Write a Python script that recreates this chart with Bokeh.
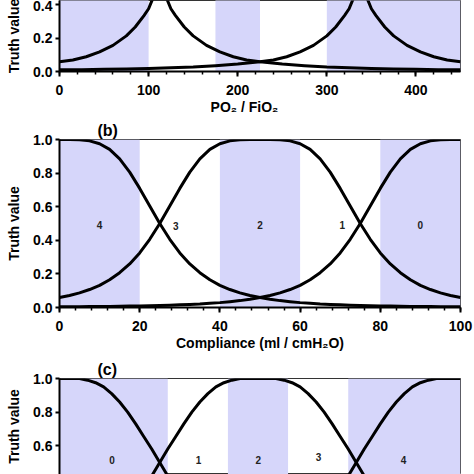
from bokeh.plotting import figure
from bokeh.layouts import column
from bokeh.models import FixedTicker, PrintfTickFormatter, Range1d, ColumnDataSource
from bokeh.core.properties import value
from bokeh.embed import file_html
from bokeh.resources import INLINE

# ---------------- data ----------------
# (a) PO2 / FiO2 membership curves
a_x_left = [0, 15, 30, 45, 60, 75, 85, 95, 100, 105, 112.5, 120, 125, 130, 140, 150,
            165, 180, 195, 210, 225, 250, 275, 300, 325, 350, 375, 400, 425, 450]
a_y_left = [0.058, 0.069, 0.088, 0.117, 0.156, 0.213, 0.266, 0.336, 0.375, 0.44, 1.0,
            0.44, 0.375, 0.336, 0.266, 0.213, 0.156, 0.117, 0.088, 0.069, 0.058,
            0.045, 0.035, 0.027, 0.022, 0.018, 0.015, 0.013, 0.011, 0.010]
a_x_right = [0, 25, 50, 75, 100, 125, 150, 175, 200, 225, 240, 255, 270, 285, 300,
             310, 320, 325, 330, 337.5, 345, 350, 355, 365, 375, 390, 405, 420, 435, 450]
a_y_right = [0.010, 0.011, 0.013, 0.015, 0.018, 0.022, 0.027, 0.035, 0.045, 0.058,
             0.069, 0.088, 0.117, 0.156, 0.213, 0.266, 0.336, 0.375, 0.44, 1.0,
             0.44, 0.375, 0.336, 0.266, 0.213, 0.156, 0.117, 0.088, 0.069, 0.058]
a_band_left = [0, 175, 300]
a_band_right = [100, 225, 450]
a_xticks = [0, 100, 200, 300, 400]

# (b) Compliance membership curves
b_x = [0, 2.5, 5, 7.5, 10, 12.5, 15, 17.5, 20, 22.5, 25, 27.5, 30, 32.5, 35, 37.5, 40,
       42.5, 45, 47.5, 50, 52.5, 55, 57.5, 60, 62.5, 65, 67.5, 70, 72.5, 75, 77.5, 80,
       82.5, 85, 87.5, 90, 92.5, 95, 97.5, 100]
b_y_low = [1.0, 1.0, 0.998, 0.992, 0.975, 0.941, 0.885, 0.806, 0.709, 0.604, 0.5,
           0.406, 0.325, 0.259, 0.207, 0.165, 0.132, 0.107, 0.087, 0.071, 0.059,
           0.049, 0.041, 0.0345, 0.029, 0.025, 0.021, 0.0185, 0.016, 0.014, 0.012,
           0.0107, 0.0094, 0.0084, 0.0074, 0.0066, 0.0059, 0.0053, 0.0048, 0.0043, 0.0039]
b_y_mid = [0.059, 0.071, 0.087, 0.107, 0.132, 0.165, 0.207, 0.259, 0.325, 0.406, 0.5,
           0.604, 0.709, 0.806, 0.885, 0.941, 0.975, 0.992, 0.998, 1.0, 1.0,
           1.0, 0.998, 0.992, 0.975, 0.941, 0.885, 0.806, 0.709, 0.604, 0.5,
           0.406, 0.325, 0.259, 0.207, 0.165, 0.132, 0.107, 0.087, 0.071, 0.059]
b_y_high = [0.0039, 0.0043, 0.0048, 0.0053, 0.0059, 0.0066, 0.0074, 0.0084, 0.0094,
            0.0107, 0.012, 0.014, 0.016, 0.0185, 0.021, 0.025, 0.029, 0.0345, 0.041,
            0.049, 0.059, 0.071, 0.087, 0.107, 0.132, 0.165, 0.207, 0.259, 0.325,
            0.406, 0.5, 0.604, 0.709, 0.806, 0.885, 0.941, 0.975, 0.992, 0.998, 1.0, 1.0]
b_band_left = [0, 40, 80]
b_band_right = [20, 60, 100]
b_xticks = [0, 20, 40, 60, 80, 100]
b_labels = ["4", "3", "2", "1", "0"]
b_label_x = [10, 29, 50, 70.5, 90]
b_label_y = [0.49, 0.485, 0.494, 0.494, 0.494]

# (c) membership curves
c_x_a = [0, 5, 7, 9, 11, 13, 15, 17, 19, 21, 23, 25, 27, 29, 31, 33, 35, 37, 39, 41,
         43, 45, 100]
c_y_a = [1.0, 1.0, 0.99, 0.975, 0.95, 0.91, 0.86, 0.80, 0.73, 0.655, 0.58, 0.5, 0.42,
         0.345, 0.27, 0.20, 0.14, 0.09, 0.05, 0.025, 0.01, 0.0, 0.0]
c_x_b = [0, 5, 7, 9, 11, 13, 15, 17, 19, 21, 23, 25, 27, 29, 31, 33, 35, 37, 39, 41,
         43, 45, 54, 56, 58, 60, 62, 64, 66, 68, 70, 72, 74, 76, 78, 80, 82, 84, 86,
         88, 90, 92, 94, 100]
c_y_b = [0.0, 0.0, 0.01, 0.025, 0.05, 0.09, 0.14, 0.20, 0.27, 0.345, 0.42, 0.5, 0.58,
         0.655, 0.73, 0.80, 0.86, 0.91, 0.95, 0.975, 0.99, 1.0,
         1.0, 0.99, 0.975, 0.95, 0.91, 0.86, 0.80, 0.73, 0.655, 0.58, 0.5, 0.42,
         0.345, 0.27, 0.20, 0.14, 0.09, 0.05, 0.025, 0.01, 0.0, 0.0]
c_x_c = [0, 54, 56, 58, 60, 62, 64, 66, 68, 70, 72, 74, 76, 78, 80, 82, 84, 86, 88,
         90, 92, 94, 100]
c_y_c = [0.0, 0.0, 0.01, 0.025, 0.05, 0.09, 0.14, 0.20, 0.27, 0.345, 0.42, 0.5, 0.58,
         0.655, 0.73, 0.80, 0.86, 0.91, 0.95, 0.975, 0.99, 1.0, 1.0]
c_band_left = [0, 42, 72]
c_band_right = [27, 57, 100]
c_labels = ["0", "1", "2", "3", "4"]
c_label_x = [13.1, 34.7, 49.6, 64.6, 85.8]
c_label_y = [0.515, 0.515, 0.515, 0.535, 0.515]

y_ticks = [0.0, 0.2, 0.4, 0.6, 0.8, 1.0]

# ---------------- styling ----------------
FONT = "Liberation Sans"
BAND = "#d6d6fa"
W = 474


def base(height, x_range, y_range, top, bottom, title=None):
    p = figure(width=W, height=height, x_range=x_range, y_range=y_range,
               output_backend="svg", toolbar_location=None, tools="",
               min_border_left=59, min_border_right=14,
               min_border_top=top, min_border_bottom=bottom)
    p.grid.visible = False
    p.background_fill_color = "white"
    p.border_fill_color = "white"
    p.outline_line_color = "#333333"
    p.outline_line_width = 1
    if title:
        p.title.text = title
        p.title.text_font = FONT
        p.title.text_font_size = "16px"
        p.title.text_font_style = "bold"
        p.title.text_color = "black"
        p.title.align = "left"
        p.title.offset = 38
        p.title.standoff = 2
    for ax in p.axis:
        ax.axis_line_width = 2
        ax.axis_line_color = "black"
        ax.major_tick_line_width = 2
        ax.major_tick_line_color = "black"
        ax.minor_tick_line_width = 1.5
        ax.minor_tick_line_color = "black"
        ax.major_label_text_font = FONT
        ax.major_label_text_font_size = "14px"
        ax.major_label_text_font_style = "bold"
        ax.major_label_text_color = "black"
        ax.axis_label_text_font = FONT
        ax.axis_label_text_font_size = "14px"
        ax.axis_label_text_font_style = "bold"
        ax.axis_label_text_color = "black"
    p.yaxis.ticker = FixedTicker(ticks=y_ticks)
    p.yaxis.formatter = PrintfTickFormatter(format="%.1f")
    p.yaxis.major_tick_out = 4
    p.yaxis.major_tick_in = 0
    p.yaxis.minor_tick_out = 0
    p.yaxis.minor_tick_in = 0
    p.yaxis.major_label_standoff = 3
    p.yaxis.axis_label = "Truth value"
    p.yaxis.axis_label_standoff = 8
    p.xaxis.major_tick_out = 5
    p.xaxis.major_tick_in = 0
    p.xaxis.minor_tick_out = 3
    p.xaxis.minor_tick_in = 0
    p.xaxis.major_label_standoff = 8
    p.xaxis.axis_label_standoff = 1
    return p


def bands(p, left, right):
    src = ColumnDataSource(dict(left=left, right=right,
                                bottom=[0] * len(left), top=[1] * len(left)))
    p.quad(left="left", right="right", bottom="bottom", top="top", source=src,
           fill_color=BAND, line_color=None)


def curve(p, xs, ys):
    p.line(xs, ys, line_color="black", line_width=3, line_join="round")


def texts(p, xs, ys, labels):
    src = ColumnDataSource(dict(x=xs, y=ys, t=labels))
    p.text(x="x", y="y", text="t", source=src, text_font=value(FONT),
           text_font_size="10px", text_font_style="bold", text_color="#222222",
           text_align="center", text_baseline="middle")


# (a)
pa = base(117, Range1d(0, 450), Range1d(0, 71 / 167.3), 0, 46)
bands(pa, a_band_left, a_band_right)
curve(pa, a_x_left, a_y_left)
curve(pa, a_x_right, a_y_right)
pa.xaxis.ticker = FixedTicker(ticks=a_xticks, minor_ticks=list(range(0, 451, 20)))
pa.xaxis.axis_label = "PO\u2082 / FiO\u2082" + "\u00a0" * 8

# (b)
pb = base(239, Range1d(0, 100), Range1d(0, 1.0), 22, 49, title="(b)")
bands(pb, b_band_left, b_band_right)
curve(pb, b_x, b_y_low)
curve(pb, b_x, b_y_mid)
curve(pb, b_x, b_y_high)
texts(pb, b_label_x, b_label_y, b_labels)
pb.xaxis.ticker = FixedTicker(ticks=b_xticks, minor_ticks=list(range(0, 101, 4)))
pb.xaxis.axis_label = "Compliance (ml / cmH\u2082O)"

# (c)
pc = base(118, Range1d(0, 100), Range1d(1.0 - 96 / 168.0, 1.0), 22, 0, title="(c)")
bands(pc, c_band_left, c_band_right)
curve(pc, c_x_a, c_y_a)
curve(pc, c_x_b, c_y_b)
curve(pc, c_x_c, c_y_c)
texts(pc, c_label_x, c_label_y, c_labels)
pc.xaxis.visible = False

layout = column(pa, pb, pc, spacing=0)
open("out.html", "w").write(file_html(layout, INLINE))
